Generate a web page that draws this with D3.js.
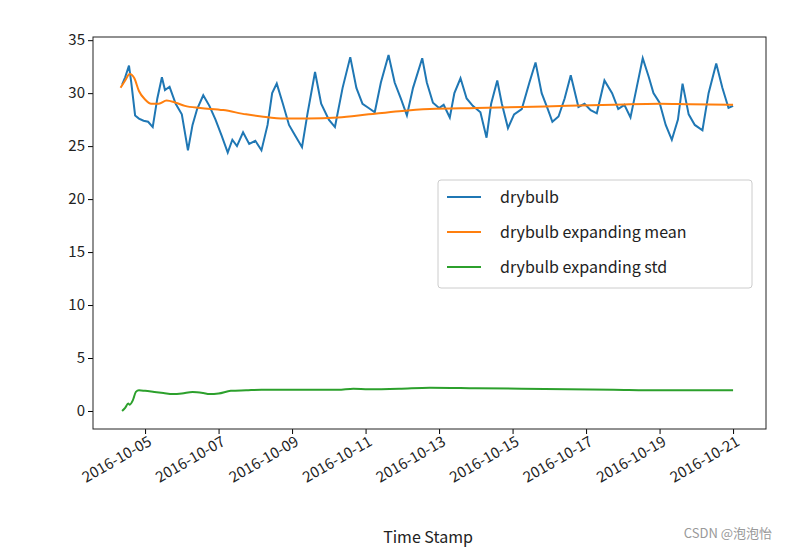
<!DOCTYPE html><html><head><meta charset="utf-8">
<script src="https://cdn.jsdelivr.net/npm/d3@7"></script>
<style>body{margin:0;background:#fff}text{font-family:"Noto Sans CJK SC","Noto Sans",sans-serif}</style></head><body>
<svg id="c" width="788" height="550"></svg>
<script>
// hours since 2016-10-04 00:00
const dryHours=[9,11,13.5,15,17.5,20,23,26,29,32,35,37,40,44,48,52,55,58,62,66,70,74,78,81,84,88,92,96,100,104,107,110,114,118,122,126.5,130,135,139,144,148,153,158,162,166,170,174,178,183,187,191,195,199,205,208,212,216,219,223,226,230,234,238,243,247,250,254,257,261,265,270,275,279,283,287,290,294,298,302,307,311,315,319,324,329,333,337,341,345,349,353,356,360,364,368,372,375,379,383,388,392,397,401,405,408];
const dryVals=[30.8,31.5,32.6,31.0,27.9,27.6,27.4,27.3,26.8,29.5,31.5,30.3,30.6,29.0,28.0,24.6,27.0,28.5,29.8,28.8,27.5,26.0,24.4,25.6,25.0,26.3,25.2,25.5,24.6,27.0,30.0,30.9,29.0,27.0,26.0,24.9,28.0,32.0,29.0,27.5,26.8,30.5,33.4,30.5,29.0,28.6,28.2,31.0,33.6,31.0,29.5,27.9,30.5,33.3,31.0,29.1,28.6,28.9,27.7,30.0,31.4,29.5,28.8,28.2,25.8,29.0,31.2,29.0,26.7,28.0,28.5,31.0,32.9,30.0,28.5,27.3,27.8,29.5,31.7,28.7,29.0,28.4,28.1,31.2,30.0,28.5,28.9,27.7,30.5,33.3,31.5,30.0,29.1,27.0,25.6,27.5,30.9,28.0,27.0,26.5,30.0,32.8,30.5,28.6,28.8];
const meanHours=[8,11,14,17,20,24,28,33,38,44,50,60,75,90,100,115,130,150,170,190,210,240,270,300,330,360,380,408];
const meanVals=[30.5,31.2,31.8,31.4,30.2,29.4,29.0,29.0,29.3,29.1,28.8,28.6,28.4,28.0,27.8,27.6,27.6,27.7,28.0,28.3,28.5,28.6,28.7,28.8,28.9,29.0,28.95,28.9];
const stdHours=[9,11,13,14,16,18,20,24,30,36,42,48,55,62,66,72,80,90,100,110,130,150,160,170,190,210,240,270,300,330,360,380,408];
const stdVals=[0.0,0.3,0.7,0.6,1.0,1.8,1.95,1.9,1.8,1.7,1.6,1.65,1.8,1.7,1.6,1.65,1.9,1.95,2.0,2.0,2.0,2.0,2.1,2.05,2.1,2.2,2.15,2.1,2.05,2.0,1.95,1.95,1.95];
const yTicks=[0,5,10,15,20,25,30,35];
const xTickDates=["2016-10-05","2016-10-07","2016-10-09","2016-10-11","2016-10-13","2016-10-15","2016-10-17","2016-10-19","2016-10-21"];
const seriesNames=["drybulb","drybulb expanding mean","drybulb expanding std"];
const colors=["#1f77b4","#ff7f0e","#2ca02c"];

const svg=d3.select("#c");
const base=new Date(2016,9,4);
const toDate=h=>new Date(base.getTime()+h*3600e3);
const x=d3.scaleTime().domain([new Date(2016,9,3,14,0),new Date(2016,9,21,21,30)]).range([93,766]);
const y=d3.scaleLinear().domain([-1.7,35.3]).range([429,37]);
svg.append("g").attr("transform","translate(0,429)")
 .call(d3.axisBottom(x).tickValues(xTickDates.map(s=>d3.timeParse("%Y-%m-%d")(s))).tickFormat(d3.timeFormat("%Y-%m-%d")).tickSizeOuter(0).tickSize(5))
 .call(g=>g.selectAll("text").attr("text-anchor","end").attr("transform","rotate(-30)").attr("dx","-0.1em").attr("dy","0.6em").style("font-size","15px").attr("fill","#222"));
svg.append("g").attr("transform","translate(93,0)")
 .call(d3.axisLeft(y).tickValues(yTicks).tickSizeOuter(0).tickSize(5))
 .call(g=>g.selectAll("text").style("font-size","15px").attr("fill","#222"));
svg.selectAll(".domain").remove();
svg.append("rect").attr("x",93).attr("y",37).attr("width",673).attr("height",392).attr("fill","none").attr("stroke","#222").attr("stroke-width",1);
const line=d3.line().x(d=>x(toDate(d[0]))).y(d=>y(d[1]));
const sets=[[dryHours,dryVals],[meanHours,meanVals],[stdHours,stdVals]];
sets.forEach((s,i)=>svg.append("path").datum(s[0].map((h,j)=>[h,s[1][j]])).attr("d",line.curve(i? d3.curveMonotoneX : d3.curveLinear)).attr("fill","none").attr("stroke",colors[i]).attr("stroke-width",2));
const lg=svg.append("g");
lg.append("rect").attr("x",438).attr("y",180).attr("width",314).attr("height",108).attr("rx",3).attr("fill","#fff").attr("stroke","#ccc");
seriesNames.forEach((n,i)=>{const yy=197+i*35;
 lg.append("line").attr("x1",447).attr("x2",481).attr("y1",yy).attr("y2",yy).attr("stroke",colors[i]).attr("stroke-width",2);
 lg.append("text").attr("x",500).attr("y",yy).attr("dy","0.35em").style("font-size","16px").attr("fill","#222").text(n);});
svg.append("text").attr("x",428).attr("y",543).attr("text-anchor","middle").style("font-size","16px").attr("fill","#222").text("Time Stamp");
svg.append("text").attr("x",772).attr("y",538).attr("text-anchor","end").style("font-size","13px").attr("fill","#999").text("CSDN @泡泡怡");
</script></body></html>
